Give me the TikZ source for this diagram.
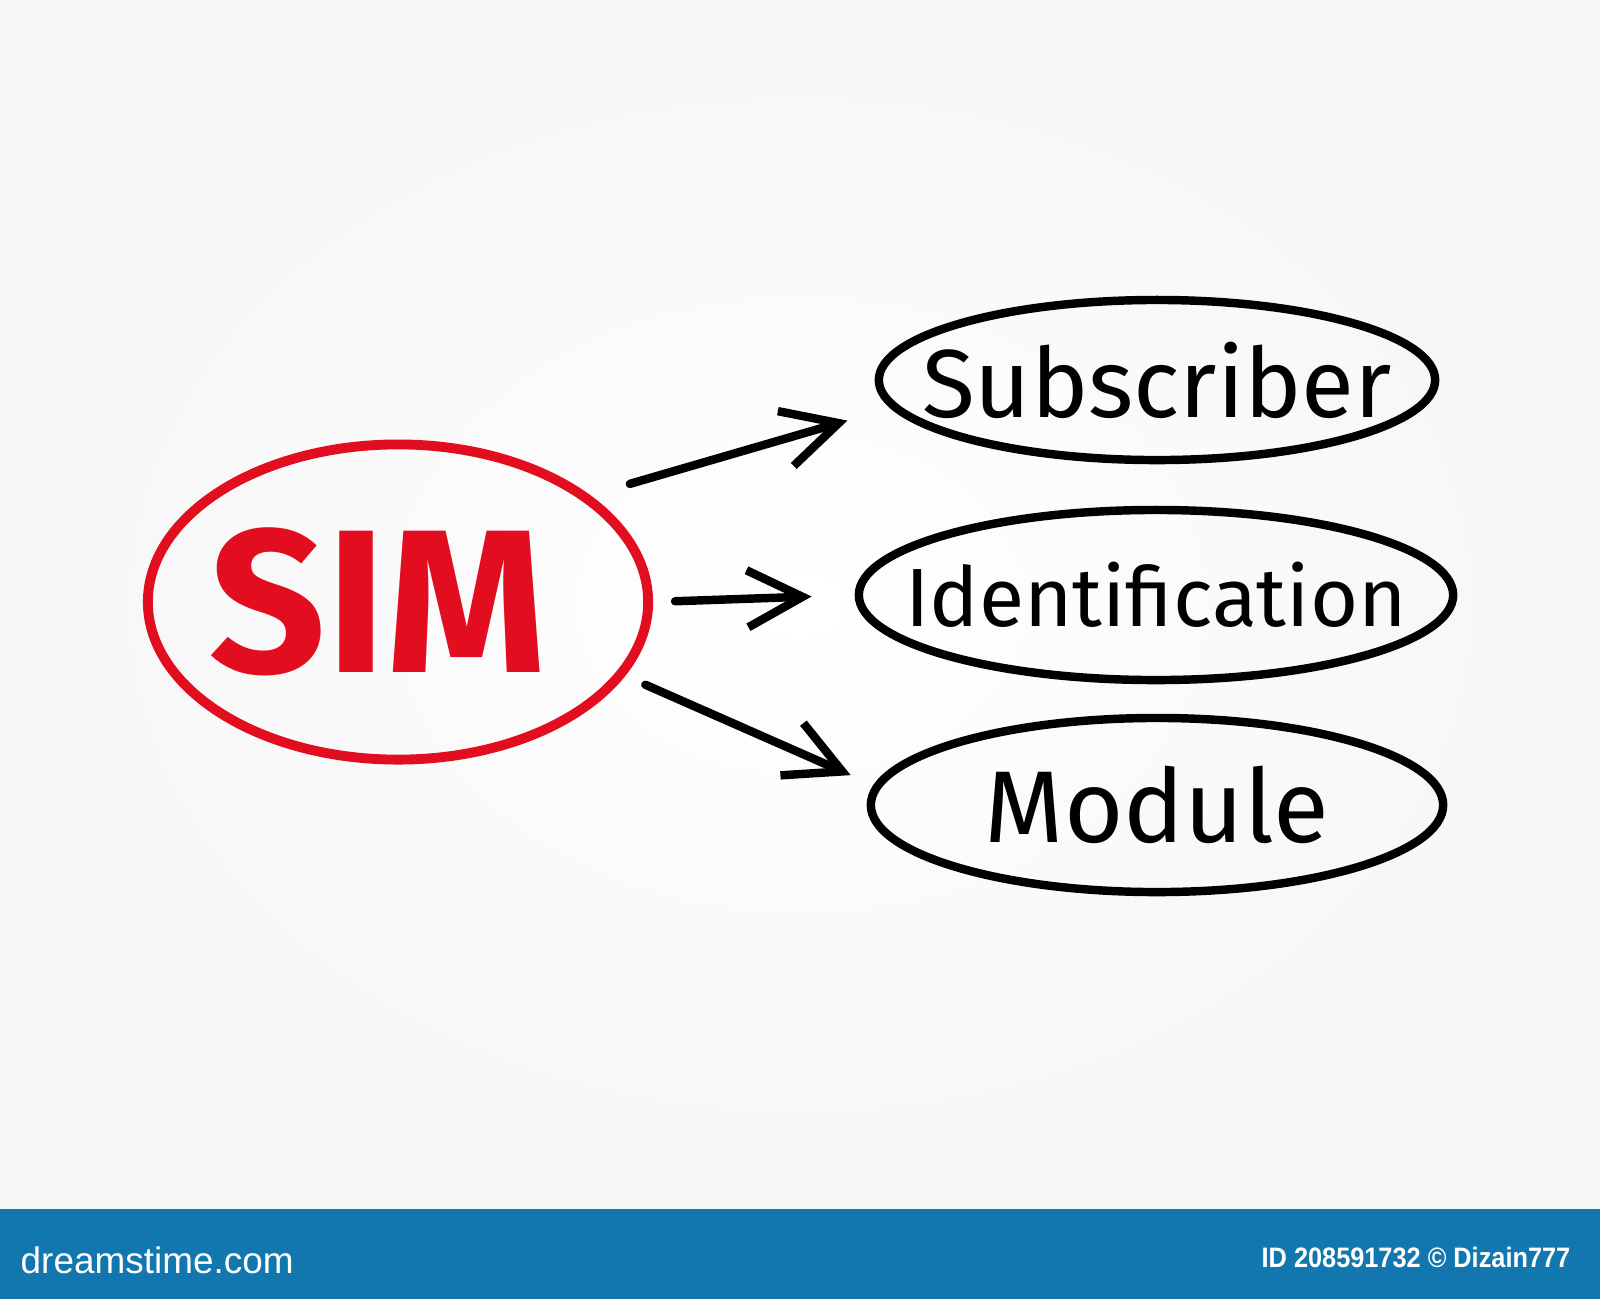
\documentclass[tikz,border=0pt]{standalone}
\usepackage{fontspec}
\setmainfont{Fira Sans}
\newfontfamily\footfont{Liberation Sans}
\usetikzlibrary{shapes.geometric, arrows.meta}

\definecolor{simred}{RGB}{226,14,32}
\definecolor{barblue}{RGB}{18,118,175}

\tikzset{
    oval/.style={draw, ellipse, line width=2.4pt, inner sep=0pt},
    word/.style={font=\fontsize{#1}{#1}\selectfont},
    word/.default=27,
    simword/.style={text=simred, font=\fontsize{58}{60}\selectfont\bfseries},
    arr/.style={-{Straight Barb[length=5.5mm, width=5.7mm]}, line width=2.4pt, line cap=round, line join=round},
    foot/.style={text=white, inner sep=0pt}
}

\begin{document}
\begin{tikzpicture}[x=0.01cm, y=-0.01cm]
            \shade[inner color=white, outer color=gray!7] (0,0) rectangle (1600,1209);
            \fill[barblue] (0,1209) rectangle (1600,1299);
            \useasboundingbox (0,0) rectangle (1600,1299);

            \node[oval, simred, line width=2.8pt, minimum width=5cm, minimum height=3.15cm,
                label={[simword, xshift=-0.2cm]center:SIM}] (sim) at (398,602) {};
            \node[oval, minimum width=5.56cm, minimum height=1.6cm,
                label={[word=27.5]center:Subscriber}] (sub) at (1157,380) {};
            \node[oval, minimum width=5.94cm, minimum height=1.7cm,
                label={[word=23.5]center:Identification}] (ident) at (1156,595) {};
            \node[oval, minimum width=5.72cm, minimum height=1.74cm,
                label={[word=29]center:Module}] (mod) at (1157,805) {};

            \draw[arr, shorten <=0.41cm, shorten >=0.45cm] (sim.29) -- (sub.186);
            \draw[arr, shorten <=0.22cm, shorten >=0.43cm] (sim.east) -- (ident.west);
            \draw[arr, shorten <=0.22cm, shorten >=0.25cm] (sim.-18) -- (mod.176);

            \node[foot, anchor=west, font=\footfont\fontsize{10.5}{12}\selectfont] (brand) at (20,1260) {dreamstime.com};
            \node[foot, anchor=east, font=\footfont\bfseries\fontsize{8}{10}\selectfont] (credit) at (1571,1257) {\scalebox{0.9}[1]{ID 208591732 © Dizain777}};
\end{tikzpicture}
\end{document}
